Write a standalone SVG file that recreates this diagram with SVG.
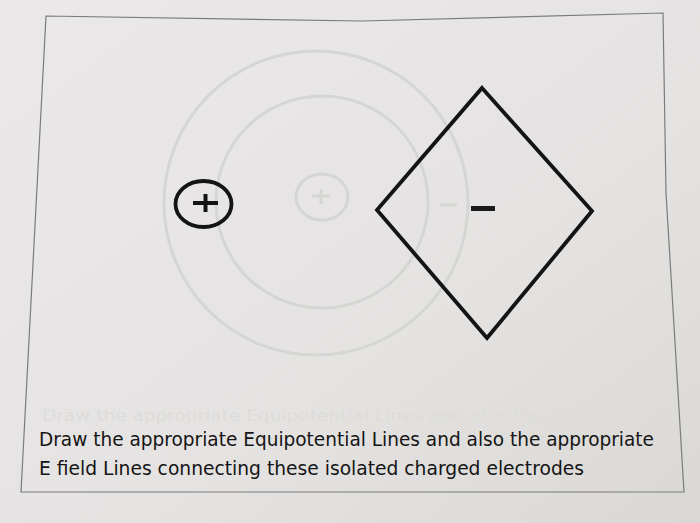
<svg xmlns="http://www.w3.org/2000/svg" width="700" height="523" viewBox="0 0 700 523">
  <defs>
    <linearGradient id="paper" x1="0" y1="0" x2="1" y2="1">
      <stop offset="0" stop-color="#ebe8e9"/>
      <stop offset="0.6" stop-color="#e5e3e2"/>
      <stop offset="1" stop-color="#d9d8d4"/>
    </linearGradient>
    <style>
      .ghost { fill: none; stroke: #d5d6d4; stroke-width: 3; }
      .ink { fill: none; stroke: #141414; stroke-width: 3.8; }
      .txt { font-family: "DejaVu Sans", "Liberation Sans", sans-serif; font-size: 19.5px; fill: #151515; }
      .ghosttxt { font-family: "DejaVu Sans", "Liberation Sans", sans-serif; font-size: 16px; fill: #dddcda; }
    </style>
  </defs>

  <rect x="0" y="0" width="700" height="523" fill="url(#paper)"/>

  <g id="frame">
    <path d="M46,16 L362,21 L663,13 L666,193 L684,492 L21,492 Z" fill="none" stroke="#7b7b7b" stroke-width="1.2"/>
  </g>

  <g id="show-through">
    <circle class="ghost" cx="316" cy="203" r="152"/>
    <circle class="ghost" cx="322" cy="202" r="106"/>
    <ellipse class="ghost" cx="322" cy="197" rx="26" ry="23"/>
    <path class="ghost" d="M312,196 H330 M321,189 V204"/>
    <path class="ghost" d="M440,205 H457"/>
    <text class="ghosttxt" x="42" y="421" textLength="615" lengthAdjust="spacingAndGlyphs">Draw the appropriate Equipotential Lines and also the appropriate</text>
  </g>

  <g id="positive-electrode">
    <ellipse class="ink" cx="203.5" cy="204" rx="28" ry="23"/>
    <path d="M193,203 H218 M205.5,194 V212" stroke="#141414" stroke-width="4" fill="none"/>
  </g>

  <g id="negative-electrode">
    <polygon class="ink" points="482,88 592,211 487,338 377,210" stroke-linejoin="miter"/>
    <rect x="471" y="206" width="24" height="5" fill="#1a1a1a"/>
  </g>

  <g id="connectors"></g>

  <g id="caption">
    <text class="txt" x="39" y="446" textLength="615" lengthAdjust="spacingAndGlyphs">Draw the appropriate Equipotential Lines and also the appropriate</text>
    <text class="txt" x="39" y="475" textLength="545" lengthAdjust="spacingAndGlyphs">E field Lines connecting these isolated charged electrodes</text>
  </g>
</svg>
